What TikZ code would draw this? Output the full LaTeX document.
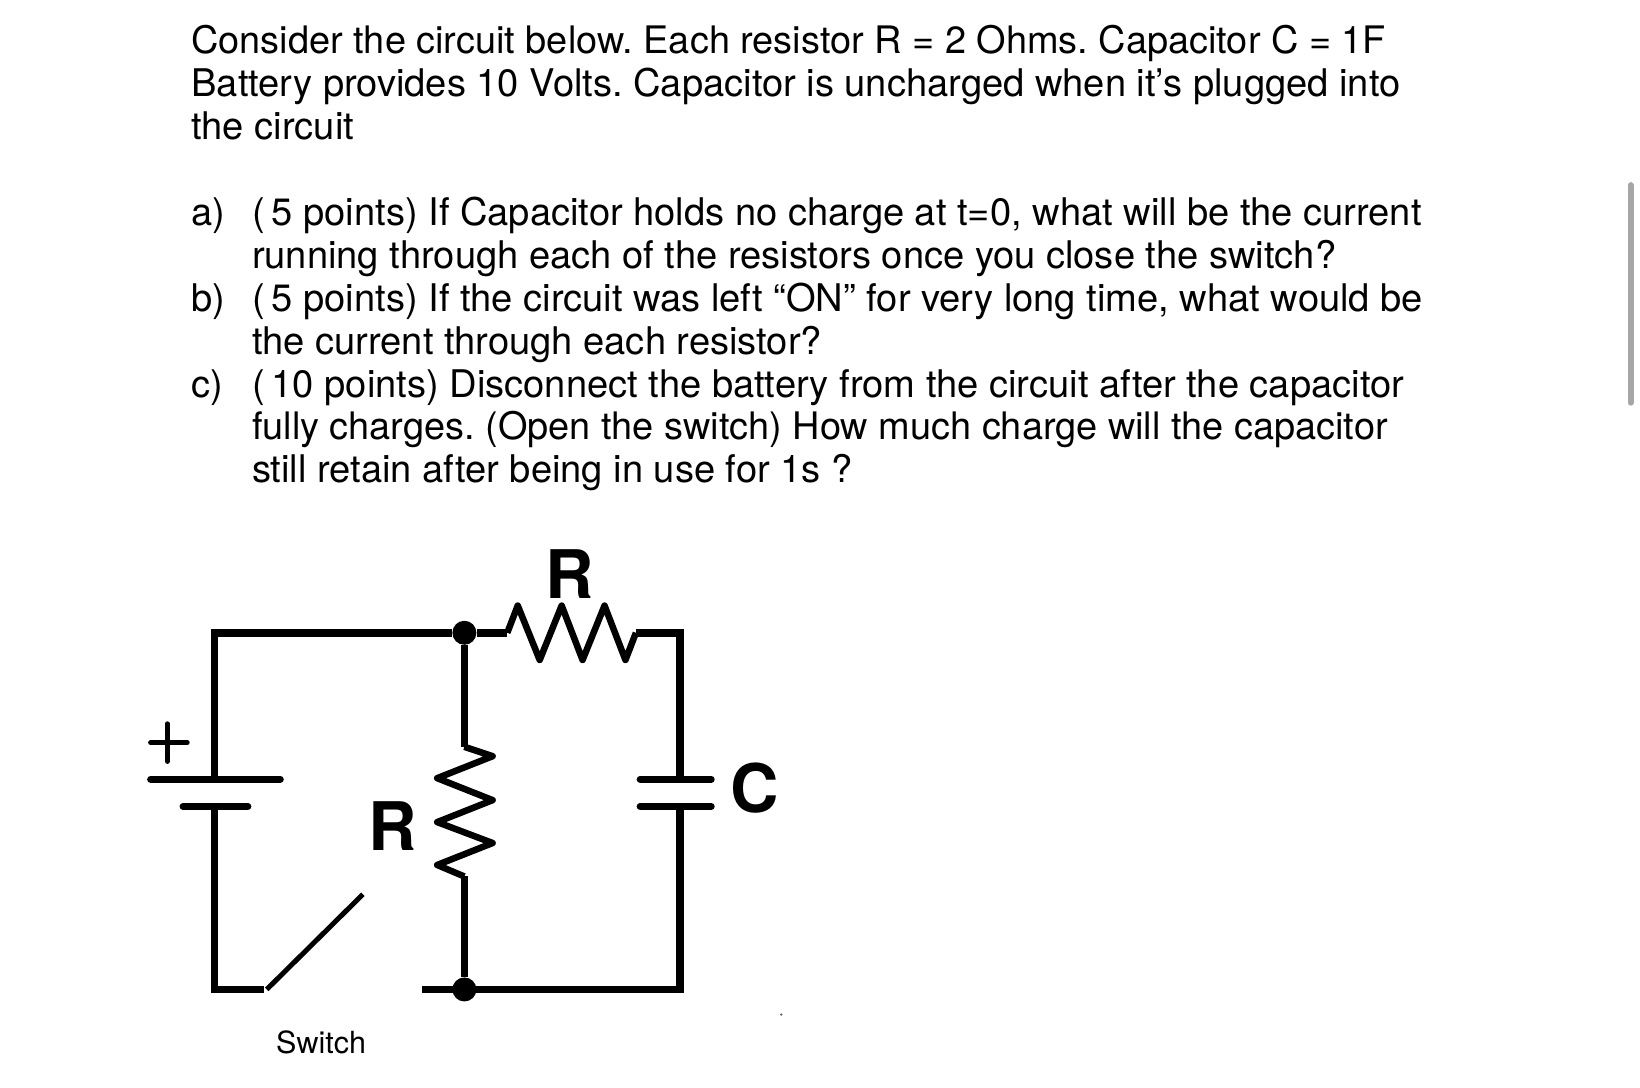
\documentclass[tikz,border=0pt]{standalone}
\usepackage{fontspec}
\setmainfont{TeX Gyre Heros}
\frenchspacing
\begin{document}
\begin{tikzpicture}[x=1.0459pt,y=-1.0459pt,
  txt/.style={anchor=base west,inner sep=0pt,outer sep=0pt,font=\fontsize{38.1}{43}\selectfont},
  lbl/.style={inner sep=0pt,outer sep=0pt,font=\fontsize{67}{70}\selectfont\bfseries},
  wire/.style={line width=7.5pt,line join=miter},
  plate/.style={line width=7pt,line cap=round},
  dot/.style={circle,fill=black,inner sep=0pt,minimum size=24pt},
  zig/.style={line width=6.5pt,line join=round}]
\useasboundingbox (0,0) rectangle (1568,1040);
\node[txt,font=\fontsize{37.9}{43}\selectfont] (l1) at (183,51) {Consider the circuit below. Each resistor R = 2 Ohms. Capacitor C = 1F};
\node[txt] (l2) at (183,92) {Battery provides 10 Volts. Capacitor is uncharged when it’s plugged into};
\node[txt] (l3) at (183,133) {the circuit};
\node[txt] (a1) at (183,216) {a)};
\node[txt] (a2) at (241,216) {(\kern7pt 5 points) If Capacitor holds no charge at t=0, what will be the current};
\node[txt] (a3) at (241,257) {running through each of the resistors once you close the switch?};
\node[txt] (b1) at (183,298) {b)};
\node[txt] (b2) at (241,298) {(\kern7pt 5 points) If the circuit was left “ON” for very long time, what would be};
\node[txt] (b3) at (241,339) {the current through each resistor?};
\node[txt] (c1) at (183,380) {c)};
\node[txt] (c2) at (241,380) {(\kern7pt 10 points) Disconnect the battery from the circuit after the capacitor};
\node[txt,font=\fontsize{37.9}{43}\selectfont] (c3) at (241,420) {fully charges. (Open the switch) How much charge will the capacitor};
\node[txt] (c4) at (241,461) {still retain after being in use for 1s ?};
% scrollbar
\draw[line width=6pt,line cap=round,black!35] (1559,177) -- (1559,385);
% circuit points
\coordinate (tl) at (205,605);
\coordinate (bl) at (205,946);
\coordinate (tr) at (650,605);
\coordinate (br) at (650,946);
\coordinate (swa) at (252,946);
\coordinate (swb) at (255,946);
\coordinate (swc) at (347,855);
\coordinate (bstub) at (403,946);
\coordinate (rhs) at (485,605);
\coordinate (rhe) at (608,605);
\coordinate (rvs) at (444,714);
\coordinate (rve) at (444,838);
\node[dot] (jt) at (444,605) {};
\node[dot] (jb) at (444,946) {};
\coordinate (batp) at (205,745);
\coordinate (batn) at (205,771);
\coordinate (capp) at (650,745);
\coordinate (capn) at (650,771);
% wires
\draw[wire] (batp) -- (tl) -- (jt) -- (rhs);
\draw[wire] (rhe) -- (tr) -- (capp);
\draw[wire] (capn) -- (br) -- (bstub);
\draw[wire] (batn) -- (bl) -- (swa);
\draw[wire] (jt) -- (rvs);
\draw[wire] (rve) -- (jb);
\draw[line width=5pt] (swb) -- (swc);
% resistors
\draw[zig] (rhs) -- (495,579) -- (516,631) -- (537,579) -- (557,631) -- (578,579) -- (598,631) -- (rhe);
\draw[zig] (rvs) -- (471,723) -- (418,744) -- (471,765) -- (418,786) -- (471,806) -- (418,827) -- (rve);
% plates
\draw[plate] (144,745) -- (268,745);
\draw[plate] (175,771) -- (237,771);
\draw[plate] (612,745) -- (680,745);
\draw[plate] (612,771) -- (680,771);
% plus
\draw[line width=5pt,line cap=round] (144,710) -- (179,710);
\draw[line width=5pt,line cap=round] (160,692) -- (160,728);
% labels
\node[lbl] (r1) at (545,549) {R};
\node[lbl] (r2) at (375,790) {R};
\node[lbl] (cap) at (722,753) {C};
\node[inner sep=0pt,font=\fontsize{30.5}{32}\selectfont] (sw) at (307,997) {Switch};
\fill[black!60] (747,970) circle (1.3pt);
\end{tikzpicture}
\end{document}
